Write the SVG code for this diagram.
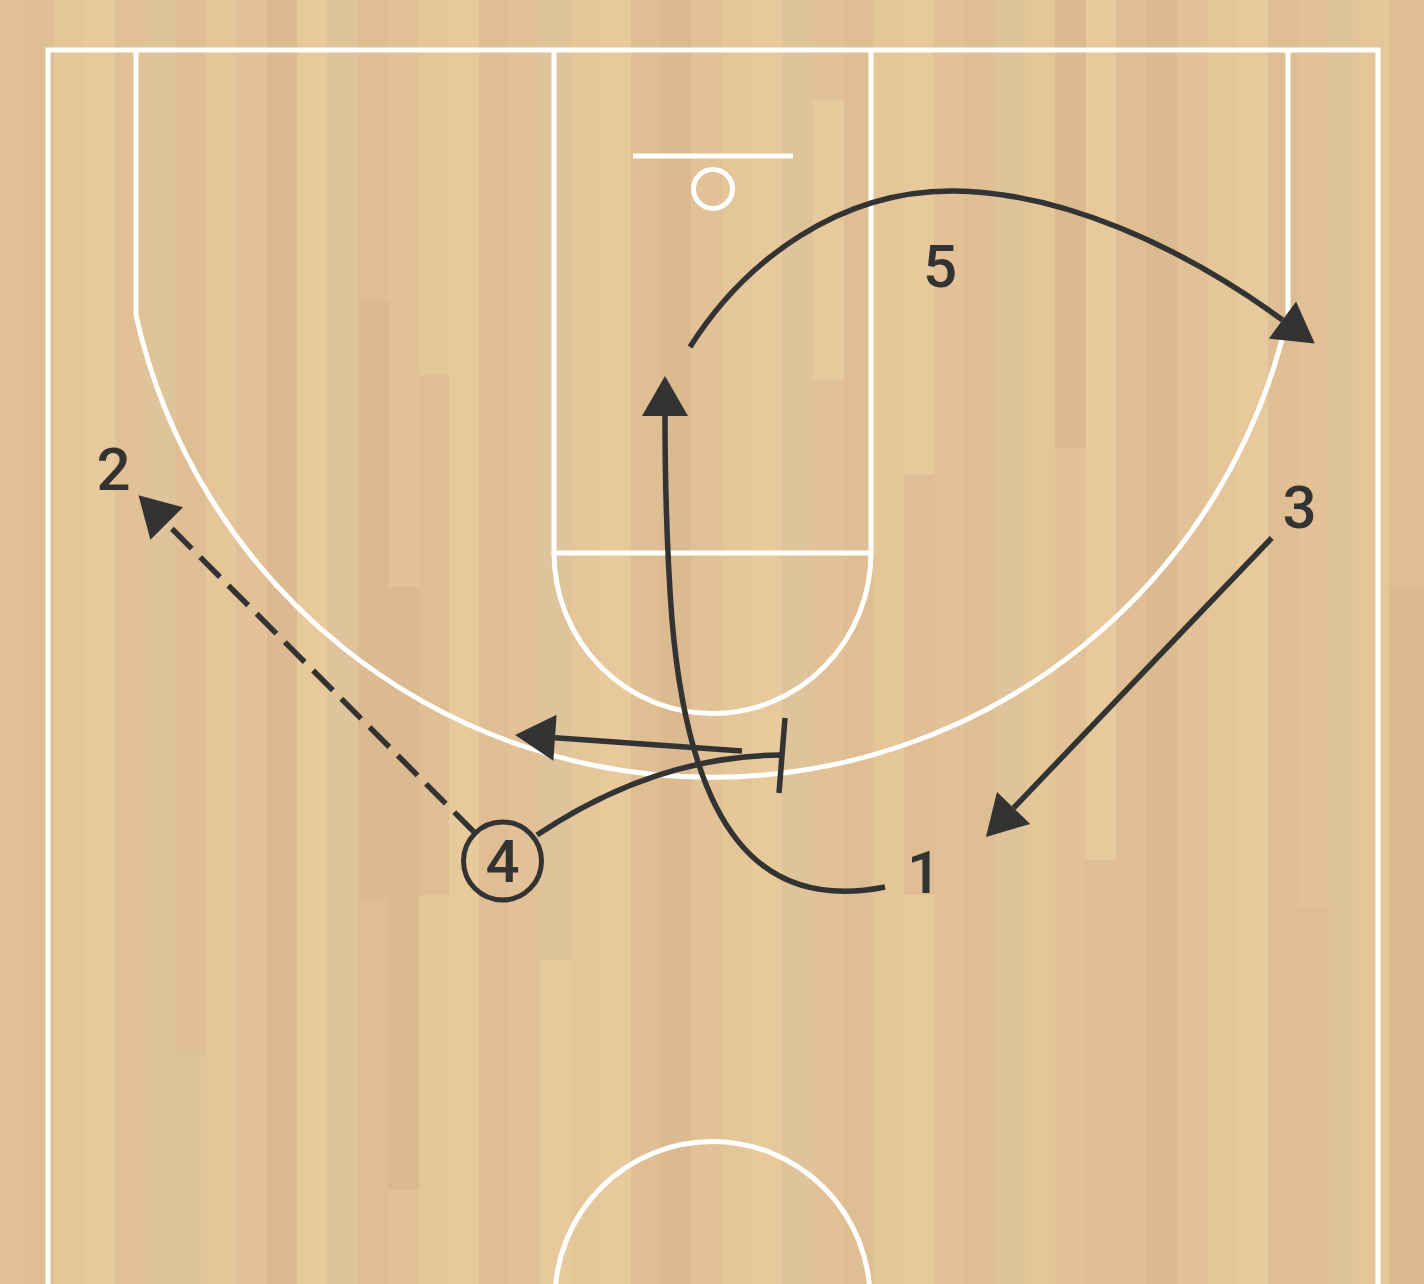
<svg xmlns="http://www.w3.org/2000/svg" width="1424" height="1284" viewBox="0 0 1424 1284">
  <style>
    .line { fill: none; stroke: #ffffff; stroke-width: 5; }
    .move { fill: none; stroke: #333333; stroke-width: 5.5; }
    .label { font-family: Roboto, "Liberation Sans", sans-serif; font-size: 60px; font-weight: 500; fill: #333333; text-anchor: middle; }
    .a { fill: #e4c699; } .b { fill: #e1c195; } .c { fill: #debe92; }
    .d { fill: #e7c99b; } .e { fill: #dfc39b; } .f { fill: #dbba8f; }
  </style>
  <defs>
    <marker id="arrow" viewBox="0 -23 40 46" refX="0" refY="0" markerWidth="40" markerHeight="46" markerUnits="userSpaceOnUse" orient="auto" overflow="visible">
      <path d="M0,-23 L40,0 L0,23 Z" fill="#333333"/>
    </marker>
  </defs>

  <g id="floor" shape-rendering="crispEdges">
    <rect x="0" y="0" width="1424" height="1284" fill="#e2c296"/>
    <rect class="b" x="-7" y="0" width="31" height="1284"/>
    <rect class="c" x="24" y="0" width="31" height="1284"/>
    <rect class="a" x="54" y="0" width="31" height="1284"/>
    <rect class="d" x="84" y="0" width="31" height="1284"/>
    <rect class="b" x="115" y="0" width="31" height="1284"/>
    <rect class="e" x="145" y="0" width="31" height="1284"/>
    <rect class="c" x="176" y="0" width="31" height="1284"/>
    <rect class="a" x="206" y="0" width="31" height="1284"/>
    <rect class="b" x="236" y="0" width="31" height="1284"/>
    <rect class="f" x="267" y="0" width="31" height="1284"/>
    <rect class="d" x="297" y="0" width="31" height="1284"/>
    <rect class="e" x="327" y="0" width="31" height="1284"/>
    <rect class="c" x="358" y="0" width="31" height="1284"/>
    <rect class="b" x="388" y="0" width="31" height="1284"/>
    <rect class="a" x="418" y="0" width="31" height="1284"/>
    <rect class="d" x="449" y="0" width="31" height="1284"/>
    <rect class="c" x="479" y="0" width="31" height="1284"/>
    <rect class="b" x="509" y="0" width="31" height="1284"/>
    <rect class="e" x="540" y="0" width="31" height="1284"/>
    <rect class="a" x="570" y="0" width="31" height="1284"/>
    <rect class="d" x="600" y="0" width="31" height="1284"/>
    <rect class="c" x="631" y="0" width="31" height="1284"/>
    <rect class="f" x="661" y="0" width="31" height="1284"/>
    <rect class="b" x="691" y="0" width="31" height="1284"/>
    <rect class="a" x="722" y="0" width="31" height="1284"/>
    <rect class="d" x="752" y="0" width="31" height="1284"/>
    <rect class="e" x="782" y="0" width="31" height="1284"/>
    <rect class="b" x="813" y="0" width="31" height="1284"/>
    <rect class="c" x="843" y="0" width="31" height="1284"/>
    <rect class="a" x="873" y="0" width="31" height="1284"/>
    <rect class="d" x="904" y="0" width="31" height="1284"/>
    <rect class="b" x="934" y="0" width="31" height="1284"/>
    <rect class="c" x="964" y="0" width="31" height="1284"/>
    <rect class="e" x="995" y="0" width="31" height="1284"/>
    <rect class="a" x="1025" y="0" width="31" height="1284"/>
    <rect class="b" x="1055" y="0" width="31" height="1284"/>
    <rect class="d" x="1086" y="0" width="31" height="1284"/>
    <rect class="c" x="1116" y="0" width="31" height="1284"/>
    <rect class="f" x="1146" y="0" width="31" height="1284"/>
    <rect class="b" x="1177" y="0" width="31" height="1284"/>
    <rect class="a" x="1207" y="0" width="31" height="1284"/>
    <rect class="d" x="1237" y="0" width="31" height="1284"/>
    <rect class="c" x="1268" y="0" width="31" height="1284"/>
    <rect class="b" x="1298" y="0" width="31" height="1284"/>
    <rect class="e" x="1328" y="0" width="31" height="1284"/>
    <rect class="a" x="1359" y="0" width="31" height="1284"/>
    <rect class="c" x="1389" y="0" width="36" height="1284"/>
    <rect class="f" x="358" y="300" width="31" height="600"/>
    <rect class="c" x="418" y="375" width="31" height="520"/>
    <rect class="f" x="388" y="587" width="31" height="603"/>
    <rect class="d" x="84" y="0" width="31" height="400"/>
    <rect class="f" x="1055" y="0" width="31" height="448"/>
    <rect class="c" x="1086" y="860" width="31" height="424"/>
    <rect class="f" x="1389" y="587" width="36" height="697"/>
    <rect class="c" x="1298" y="907" width="31" height="377"/>
    <rect class="c" x="904" y="475" width="31" height="420"/>
    <rect class="d" x="540" y="960" width="31" height="324"/>
    <rect class="e" x="176" y="1055" width="31" height="229"/>
    <rect class="d" x="813" y="100" width="31" height="280"/>
  </g>

  <g id="court">
    <path class="line" d="M48,1284 V50 H1378 V1284"/>
    <path class="line" d="M136,50 V315 A590,590 0 0 0 1288,315 V50"/>
    <path class="line" d="M554,50 V553 H871 V50"/>
    <path class="line" d="M554,553 A158.5,160.5 0 0 0 871,553"/>
    <line class="line" x1="633" y1="156" x2="793" y2="156"/>
    <circle class="line" cx="713" cy="189" r="19.5"/>
    <circle class="line" cx="712.5" cy="1299" r="157.5"/>
  </g>

  <g id="connectors">
    <path id="pass-4-2" class="move" stroke-dasharray="28 12" d="M474,832 L166.7,523.5" marker-end="url(#arrow)"/>
    <path id="cut-3" class="move" d="M1271.7,538 L1013.6,808" marker-end="url(#arrow)"/>
    <path id="cut-1" class="move" d="M885,887 C760,912 690,830 672,620 C666,540 665,470 665,416" marker-end="url(#arrow)"/>
    <path id="cut-5" class="move" d="M690,347 C745,260 840,190 954,191 C1060,192 1180,245 1282.5,320" marker-end="url(#arrow)"/>
    <path id="screen-4" class="move" d="M537,835 C600,793 680,756 780,755"/>
    <line id="screen-bar" class="move" x1="785" y1="718" x2="779" y2="793"/>
    <path id="roll-4" class="move" d="M742,751 L555,737.8" marker-end="url(#arrow)"/>
  </g>

  <g id="player-1"><text class="label" x="924" y="893">1</text></g>
  <g id="player-2"><text class="label" x="113.5" y="490">2</text></g>
  <g id="player-3"><text class="label" x="1299.5" y="528">3</text></g>
  <g id="player-4">
    <circle cx="502.5" cy="861" r="39" fill="none" stroke="#333333" stroke-width="5"/>
    <text class="label" x="502.5" y="882">4</text>
  </g>
  <g id="player-5"><text class="label" x="940" y="287">5</text></g>
</svg>
